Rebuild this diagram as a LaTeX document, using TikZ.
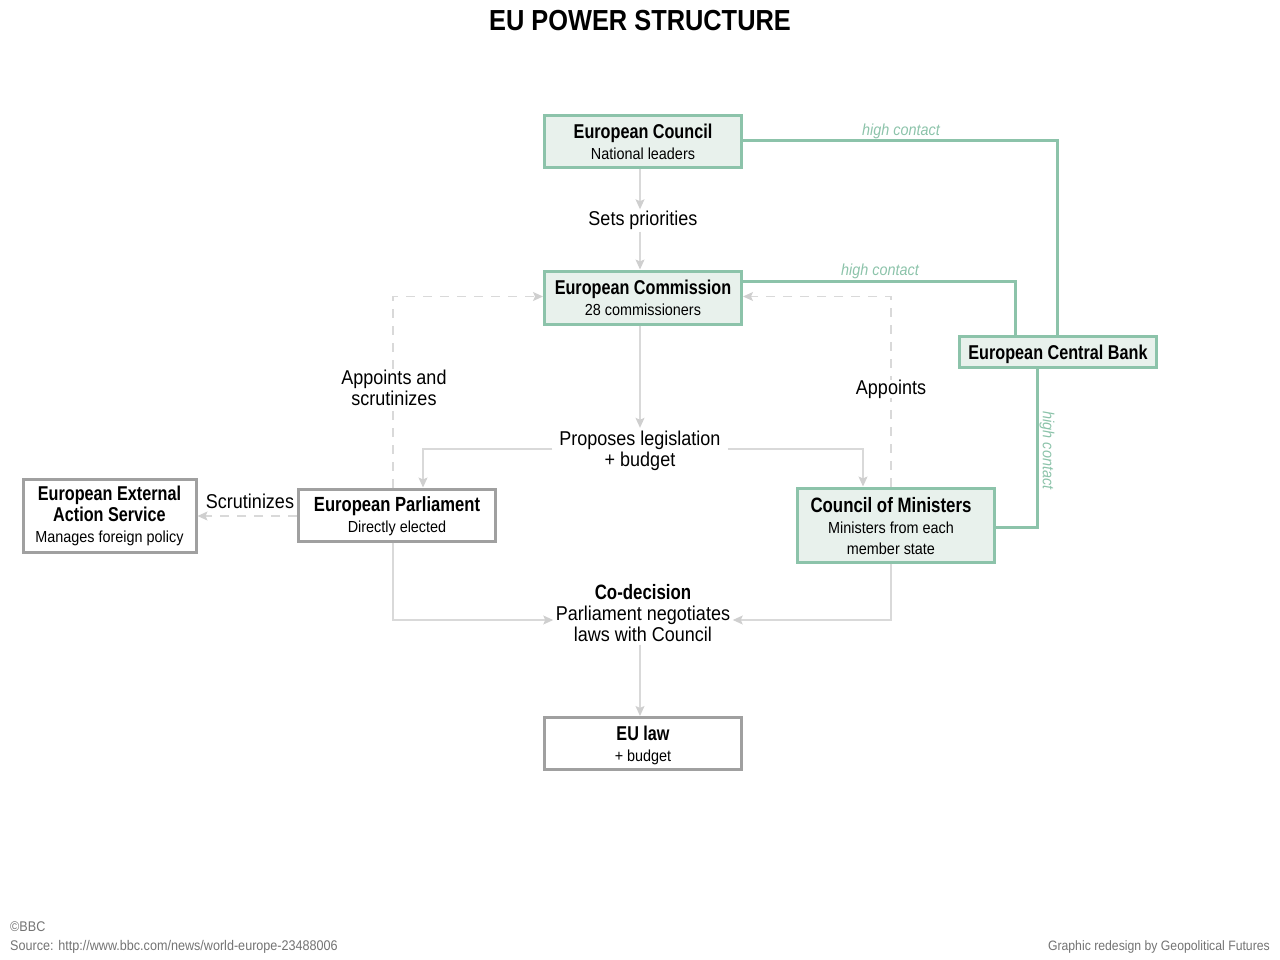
\documentclass[tikz,border=0pt]{standalone}
\usepackage{fontspec}
\usetikzlibrary{arrows.meta}
\setmainfont{Liberation Sans}[FakeStretch=0.9,BoldFeatures={FakeStretch=0.81}]
\newfontfamily\titlefont{Liberation Sans}[FakeStretch=0.875]
\definecolor{gr}{HTML}{8CC3AA}
\definecolor{grfill}{HTML}{E8F1EC}
\definecolor{boxgray}{HTML}{A0A0A0}
\definecolor{linegray}{HTML}{D9D9D9}
\definecolor{tipgray}{HTML}{CFCFCF}
\newcommand{\hd}[2][20]{{\fontsize{#1}{21}\selectfont\bfseries #2}}
\newcommand{\sbt}[2][20]{{\fontsize{16}{#1}\selectfont #2}}
\newcommand{\tp}{\rule{0pt}{18pt}}
\tikzset{
  x=1pt,y=-1pt,
  box/.style={draw,line width=3pt,align=center,inner sep=0pt,font=\fontsize{20}{21}\selectfont},
  greenbox/.style={box,draw=gr,fill=grfill},
  graybox/.style={box,draw=boxgray,fill=white},
  conn/.style={draw=linegray,line width=1.2pt,-{Stealth[length=10pt,width=9pt,inset=2pt,color=tipgray]}},
  dashconn/.style={conn,dash pattern=on 9pt off 8pt},
  link/.style={draw=gr,line width=3pt,line join=miter},
  lab/.style={fill=white,align=center,inner sep=0pt,text=black,font=\fontsize{20}{21}\selectfont},
  contact/.style={text=gr,inner sep=0pt,font=\fontsize{16}{18}\selectfont\itshape},
  foot/.style={text=black!55,inner sep=0pt,font=\fontsize{14}{16}\selectfont},
}
\begin{document}
\begin{tikzpicture}
\useasboundingbox (0,0) rectangle (1280,960);
\coordinate (spine) at (640,0);
\coordinate (pl) at (393,0);
\coordinate (pr) at (423,0);
\coordinate (cl) at (863,0);
\coordinate (cr) at (891,0);
\coordinate (ecrun) at (1057,0);
\coordinate (comrun) at (1015,0);
\coordinate (cmrun) at (1037,0);
\coordinate (propy) at (0,449);
\coordinate (coy) at (0,620);
\coordinate (dashy) at (0,296.5);

\node[inner sep=0pt,font=\titlefont\fontsize{29}{32}\selectfont\bfseries] (title) at (640,21) {EU POWER STRUCTURE};

\node[greenbox,minimum width=197pt,minimum height=52pt] (ec) at (643,142) {\hd{European Council}\\\sbt{National leaders}};
\node[greenbox,minimum width=197pt,minimum height=53pt] (com) at (643,297.5) {\hd{European Commission}\\\sbt{28 commissioners}};
\node[graybox,minimum width=197pt,minimum height=52pt] (ep) at (397,515) {\hd[20.5]{\tp European Parliament}\\\sbt{Directly elected}};
\node[graybox,minimum width=173pt,minimum height=73pt] (eeas) at (109.5,516) {\hd{European External}\\\hd{Action Service}\\\sbt{Manages foreign policy}};
\node[greenbox,minimum width=197pt,minimum height=74pt] (cm) at (896,525) {};
\node[align=center,inner sep=0pt,font=\fontsize{20}{21}\selectfont] (cmtext) at (891,526.5) {\hd[20.8]{Council of Ministers}\\\sbt[19.5]{Ministers from each}\\\sbt[19.5]{member state}};
\node[greenbox,minimum width=197pt,minimum height=31pt] (ecb) at (1058,352) {\hd{\rule{0pt}{19pt}European Central Bank}};
\node[graybox,minimum width=197pt,minimum height=52pt] (law) at (643,743.5) {\hd{\tp EU law}\\\sbt{+ budget}};

\node[lab,minimum height=22pt] (sets) at (643,220.5) {Sets priorities};
\node[lab,inner xsep=7pt,minimum height=46pt] (prop) at (640,451) {Proposes legislation\\+ budget};
\node[lab,inner xsep=2.5pt,minimum height=62pt] (co) at (643,613.5) {\hd[20.8]{Co-decision}\\Parliament negotiates\\laws with Council};

\draw[conn] (ec.south -| spine) -- (sets.north -| spine);
\draw[conn] (sets.south -| spine) -- (com.north -| spine);
\draw[conn] (com.south -| spine) -- (prop.north -| spine);
\draw[conn] (prop.west |- propy) -| (ep.north -| pr);
\draw[conn] (prop.east |- propy) -| (cm.north -| cl);
\draw[dashconn] (ep.north -| pl) |- (com.west |- dashy);
\draw[dashconn] (cm.north -| cr) |- (com.east |- dashy);
\draw[dashconn] (ep.west |- eeas.center) -- (eeas.east);
\draw[conn] (ep.south -| pl) |- (co.west |- coy);
\draw[conn] (cm.south -| cr) |- (co.east |- coy);
\draw[conn] (co.south -| spine) -- (law.north -| spine);

\coordinate (ecout) at (742,141);
\coordinate (comout) at (742,281);
\coordinate (cmout) at (995,527);
\draw[link] (ec.east |- ecout) -| (ecb.north -| ecrun);
\draw[link] (com.east |- comout) -| (ecb.north -| comrun);
\draw[link] (ecb.south -| cmrun) |- (cm.east |- cmout);

\node[lab] (apsc) at (394,388) {Appoints and\\scrutinizes};
\node[lab] (ap) at (891,389) {Appoints};
\node[lab,fill=none] (scr) at (250,501) {Scrutinizes};
\node[contact] (hc1) at (901,131) {high contact};
\node[contact] (hc2) at (880,271) {high contact};
\node[contact,rotate=-90] (hc3) at (1047,450.5) {high contact};

\node[foot,anchor=west] (f1) at (10,927) {©BBC};
\node[foot,anchor=west] (f2) at (10,947) {Source: http://www.bbc.com/news/world-europe-23488006};
\node[foot,anchor=east,font=\fontsize{13.6}{16}\selectfont] (f3) at (1270,947) {Graphic redesign by Geopolitical Futures};
\end{tikzpicture}
\end{document}
